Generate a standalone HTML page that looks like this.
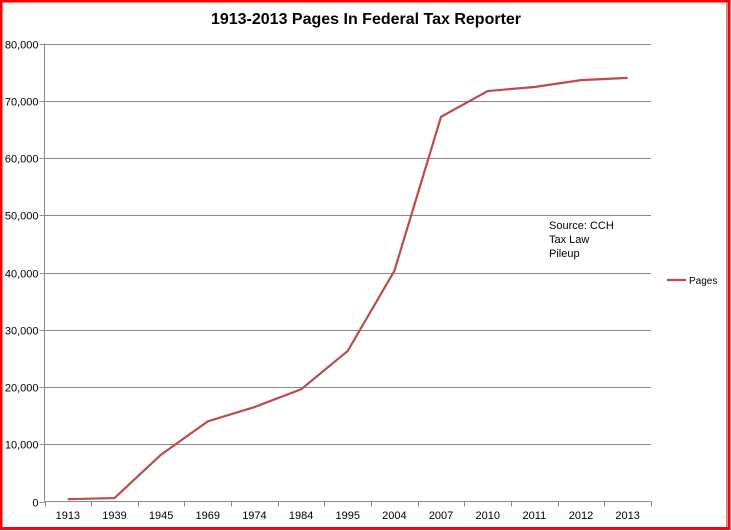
<!DOCTYPE html>
<html><head><meta charset="utf-8"><style>
html,body{margin:0;padding:0;background:#fff;}
svg{display:block;font-family:"Liberation Sans",sans-serif;}
</style></head><body>
<svg id="chart" width="731" height="531" viewBox="0 0 731 531">
<rect x="0" y="0" width="731" height="531" fill="#fff"/>
<line x1="726.5" y1="2" x2="726.5" y2="528" stroke="#999"/>
<rect x="1" y="1" width="728" height="527.5" fill="none" stroke="#f00" stroke-width="3"/>
<text x="366" y="24" text-anchor="middle" font-size="16" font-weight="bold">1913-2013 Pages In Federal Tax Reporter</text>
<g id="grid"></g>
<g id="axes"></g>
<polyline id="line" fill="none" stroke="#be4b48" stroke-width="2.2"/>
<text x="549" y="229" font-size="11"><tspan x="549">Source: CCH</tspan><tspan x="549" dy="14">Tax Law</tspan><tspan x="549" dy="14">Pileup</tspan></text>
<g>
<line x1="667" y1="280" x2="686" y2="280" stroke="#be4b48" stroke-width="2.2"/>
<text x="689" y="284" font-size="10">Pages</text>
</g>
</svg>
<script>
const categories=["1913","1939","1945","1969","1974","1984","1995","2004","2007","2010","2011","2012","2013"];
const pages=[400,600,8200,14000,16500,19600,26300,40300,67200,71700,72400,73600,74000];
const yTicks=[0,10000,20000,30000,40000,50000,60000,70000,80000];
const NS="http://www.w3.org/2000/svg";
const L=44.5,R=651,T=43.5,B=501.5,YMAX=80000;
const step=(R-L)/categories.length;
const x=i=>L+step*(i+0.5);
const y=v=>B-(v/YMAX)*(B-T);
function mk(tag,attrs,parent){const e=document.createElementNS(NS,tag);for(const k in attrs)e.setAttribute(k,attrs[k]);parent.appendChild(e);return e;}
const grid=document.getElementById('grid'),axes=document.getElementById('axes');
yTicks.forEach(v=>{
  const yy=Math.round(y(v))+0.5;
  if(v>0){const g=mk('line',{x1:L,x2:R,y1:yy,y2:yy,stroke:'#888'},grid);
  
  }
  const tk=mk('line',{x1:L-5,x2:L,y1:yy,y2:yy,stroke:'#888'},axes);
  
  
  const t=mk('text',{x:L-6,y:yy+4,'text-anchor':'end','font-size':'11'},axes);
  t.textContent=v.toLocaleString('en-US');
  
  
});
const ya=mk('line',{x1:L,x2:L,y1:T,y2:B,stroke:'#888'},axes);


const xa=mk('line',{x1:L,x2:R,y1:B,y2:B,stroke:'#888'},axes);


for(let i=0;i<=categories.length;i++){
  const xx=Math.round(L+step*i)+0.5;
  const tk=mk('line',{x1:xx,x2:xx,y1:B,y2:B+5,stroke:'#888'},axes);
  
  
}
categories.forEach((c,i)=>{
  const t=mk('text',{x:x(i),y:519,'text-anchor':'middle','font-size':'11'},axes);
  t.textContent=c;
  
  
});
document.getElementById('line').setAttribute('points',pages.map((v,i)=>x(i)+','+y(v)).join(' '));
</script>
</body></html>
